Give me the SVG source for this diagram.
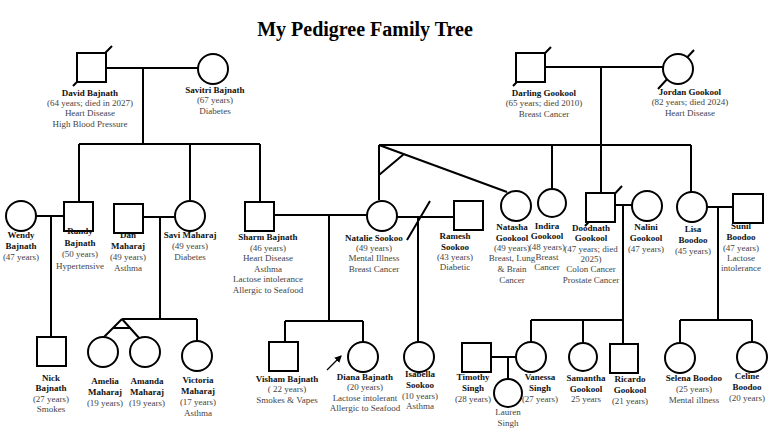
<svg xmlns="http://www.w3.org/2000/svg" width="768" height="433" viewBox="0 0 768 433">
<style>
.s{fill:#fff;stroke:#000;stroke-width:2}
.l{fill:none;stroke:#000;stroke-width:2}
text{font-family:"Liberation Serif","DejaVu Serif",serif;font-size:9px;text-anchor:middle;fill:#444}
.b{font-weight:bold;fill:#111}
.t{font-size:20px;font-weight:bold;fill:#000}
</style>
<defs><marker id="a" markerWidth="6" markerHeight="6" refX="5" refY="3" orient="auto"><path d="M0,0L6,3L0,6z" fill="#000"/></marker></defs>
<rect width="768" height="433" fill="#fff"/>
<text class="t" x="365" y="36">My Pedigree Family Tree</text>
<g id="connectors">
<path class="l" d="M106,68H198M143,68V144M79,144H260M79,144V202M190,144V200M260,144V202"/>
<path class="l" d="M36,216H64M51,216V337M143,217H175M160,217V319M122,319H197M197,319V341M122,319L103,338M122,319L140,339M113,328H131"/>
<path class="l" d="M274,215H367M329,215V321M285,321H363M285,321V342M363,321V342"/>
<path class="l" d="M397,217H454M407,240L430,201M418,217V342"/>
<path class="l" d="M544,67H663M601,67V193M379,145H691M379,145V200M379,145L507,192M379,175L404,154M552,145V190M691,145V192"/>
<path class="l" d="M614,205H632M623,205V320M531,320H623M531,320V343M583,320V343M623,320V344"/>
<path class="l" d="M707,207H733M718,207V320M680,320H752M680,320V343M752,320V342"/>
<path class="l" d="M491,357H516M508,357V379"/>
<path class="l" d="M73,86L112,46M513,86L551,47M658,89L694,50M585,226L622,186"/>
<line x1="327" y1="370" x2="341" y2="356" stroke="#000" stroke-width="1.2" marker-end="url(#a)"/>
</g>
<g id="david"><rect class="s" x="77" y="53" width="29" height="29"/><text class="b" x="90" y="96">David Bajnath</text><text x="90" y="106">(64 years; died in 2027)</text><text x="90" y="116">Heart Disease</text><text x="90" y="127">High Blood Pressure</text></g>
<g id="savitri"><circle class="s" cx="213" cy="69" r="15"/><text class="b" x="215" y="93">Savitri Bajnath</text><text x="215" y="103">(67 years)</text><text x="215" y="114">Diabetes</text></g>
<g id="darling"><rect class="s" x="516" y="53" width="29" height="29"/><text class="b" x="544" y="96">Darling Gookool</text><text x="544" y="106">(65 years; died 2010)</text><text x="544" y="117">Breast Cancer</text></g>
<g id="jordan"><circle class="s" cx="678" cy="69" r="15"/><text class="b" x="690" y="95">Jordan Gookool</text><text x="690" y="105">(82 years; died 2024)</text><text x="690" y="116">Heart Disease</text></g>
<g id="wendy"><circle class="s" cx="21" cy="216" r="15"/><text class="b" x="21" y="238">Wendy</text><text class="b" x="21" y="249">Bajnath</text><text x="21" y="260">(47 years)</text></g>
<g id="randy"><rect class="s" x="64" y="202" width="29" height="29"/><text class="b" x="80" y="234">Randy</text><text class="b" x="80" y="246">Bajnath</text><text x="80" y="257">(50 years)</text><text x="80" y="269">Hypertensive</text></g>
<g id="dan"><rect class="s" x="114" y="204" width="29" height="29"/><text class="b" x="128" y="238">Dan</text><text class="b" x="128" y="249">Maharaj</text><text x="128" y="260">(49 years)</text><text x="128" y="271">Asthma</text></g>
<g id="savi"><circle class="s" cx="190" cy="216" r="15"/><text class="b" x="190" y="238">Savi Maharaj</text><text x="190" y="249">(49 years)</text><text x="190" y="260">Diabetes</text></g>
<g id="sharm"><rect class="s" x="245" y="202" width="29" height="29"/><text class="b" x="268" y="240">Sharm Bajnath</text><text x="268" y="251">(46 years)</text><text x="268" y="261">Heart Disease</text><text x="268" y="272">Asthma</text><text x="268" y="282">Lactose intolerance</text><text x="268" y="293">Allergic to Seafood</text></g>
<g id="natalie"><circle class="s" cx="382" cy="216" r="15"/><text class="b" x="374" y="241">Natalie Sookoo</text><text x="374" y="251">(49 years)</text><text x="374" y="261">Mental Illness</text><text x="374" y="272">Breast Cancer</text></g>
<g id="ramesh"><rect class="s" x="454" y="201" width="29" height="29"/><text class="b" x="455" y="239">Ramesh</text><text class="b" x="455" y="250">Sookoo</text><text x="455" y="260">(43 years)</text><text x="455" y="270">Diabetic</text></g>
<g id="natasha"><circle class="s" cx="516" cy="206" r="15"/><text class="b" x="512" y="230">Natasha</text><text class="b" x="512" y="241">Gookool</text><text x="512" y="251">(49 years)</text><text x="512" y="261">Breast, Lung</text><text x="512" y="272">&amp; Brain</text><text x="512" y="283">Cancer</text></g>
<g id="indira"><circle class="s" cx="552" cy="203" r="14"/><text class="b" x="547" y="229">Indira</text><text class="b" x="547" y="239">Gookool</text><text x="547" y="250">(48 years)</text><text x="547" y="260">Breast</text><text x="547" y="270">Cancer</text></g>
<g id="doodnath"><rect class="s" x="586" y="193" width="29" height="29"/><text class="b" x="591" y="231">Doodnath</text><text class="b" x="591" y="241">Gookool</text><text x="591" y="252">(47 years; died</text><text x="591" y="262">2025)</text><text x="591" y="272">Colon Cancer</text><text x="591" y="283">Prostate Cancer</text></g>
<g id="nalini"><circle class="s" cx="647" cy="206" r="15"/><text class="b" x="646" y="230">Nalini</text><text class="b" x="646" y="241">Gookool</text><text x="646" y="252">(47 years)</text></g>
<g id="lisa"><circle class="s" cx="692" cy="207" r="15"/><text class="b" x="693" y="232">Lisa</text><text class="b" x="693" y="243">Boodoo</text><text x="693" y="254">(45 years)</text></g>
<g id="sunil"><rect class="s" x="733" y="194" width="30" height="29"/><text class="b" x="741" y="229">Sunil</text><text class="b" x="741" y="240">Boodoo</text><text x="741" y="251">(47 years)</text><text x="741" y="261">Lactose</text><text x="741" y="271">intolerance</text></g>
<g id="nick"><rect class="s" x="37" y="337" width="29" height="29"/><text class="b" x="51" y="381">Nick</text><text class="b" x="51" y="391">Bajnath</text><text x="51" y="402">(27 years)</text><text x="51" y="412">Smokes</text></g>
<g id="amelia"><circle class="s" cx="103" cy="352" r="15"/><text class="b" x="105" y="384">Amelia</text><text class="b" x="105" y="395">Maharaj</text><text x="105" y="406">(19 years)</text></g>
<g id="amanda"><circle class="s" cx="145" cy="352" r="15"/><text class="b" x="147" y="384">Amanda</text><text class="b" x="147" y="395">Maharaj</text><text x="147" y="406">(19 years)</text></g>
<g id="victoria"><circle class="s" cx="197" cy="356" r="15"/><text class="b" x="198" y="383">Victoria</text><text class="b" x="198" y="394">Maharaj</text><text x="198" y="405">(17 years)</text><text x="198" y="416">Asthma</text></g>
<g id="visham"><rect class="s" x="269" y="342" width="29" height="29"/><text class="b" x="287" y="382">Visham Bajnath</text><text x="287" y="392">( 22 years)</text><text x="287" y="403">Smokes &amp; Vapes</text></g>
<g id="diana"><circle class="s" cx="363" cy="357" r="15"/><text class="b" x="365" y="380">Diana Bajnath</text><text x="365" y="390">(20 years)</text><text x="365" y="401">Lactose intolerant</text><text x="365" y="411">Allergic to Seafood</text></g>
<g id="isabella"><circle class="s" cx="419" cy="357" r="15"/><text class="b" x="420" y="377">Isabella</text><text class="b" x="420" y="388">Sookoo</text><text x="420" y="399">(10 years)</text><text x="420" y="409">Asthma</text></g>
<g id="timothy"><rect class="s" x="462" y="343" width="29" height="29"/><text class="b" x="473" y="380">Timothy</text><text class="b" x="473" y="391">Singh</text><text x="473" y="402">(28 years)</text></g>
<g id="vanessa"><circle class="s" cx="531" cy="357" r="15"/><text class="b" x="540" y="380">Vanessa</text><text class="b" x="540" y="391">Singh</text><text x="540" y="402">(27 years)</text></g>
<g id="lauren"><circle class="s" cx="508" cy="393" r="14"/><text x="508" y="415">Lauren</text><text x="508" y="426">Singh</text></g>
<g id="samantha"><circle class="s" cx="583" cy="357" r="14"/><text class="b" x="586" y="381">Samantha</text><text class="b" x="586" y="392">Gookool</text><text x="586" y="402">25 years</text></g>
<g id="ricardo"><rect class="s" x="610" y="344" width="28" height="29"/><text class="b" x="630" y="382">Ricardo</text><text class="b" x="630" y="393">Gookool</text><text x="630" y="404">(21 years)</text></g>
<g id="selena"><circle class="s" cx="680" cy="358" r="15"/><text class="b" x="694" y="381">Selena Boodoo</text><text x="694" y="392">(25 years)</text><text x="694" y="403">Mental illness</text></g>
<g id="celine"><circle class="s" cx="752" cy="357" r="15"/><text class="b" x="747" y="379">Celine</text><text class="b" x="747" y="390">Boodoo</text><text x="747" y="401">(20 years)</text></g>
</svg>
